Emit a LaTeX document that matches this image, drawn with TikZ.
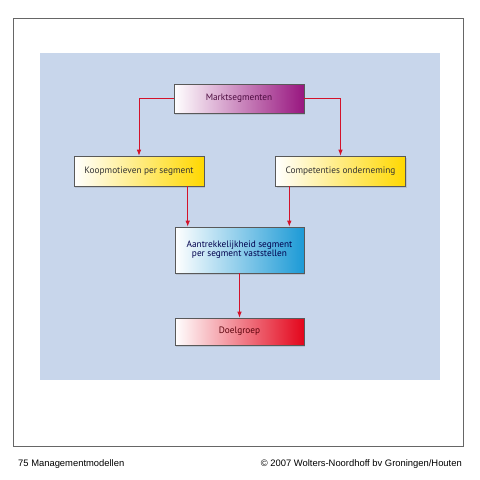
\documentclass[tikz,border=0pt]{standalone}
\usepackage{fontspec}
\setmainfont{Liberation Sans}
\newfontfamily\boxfont{PT Sans}
\usetikzlibrary{shadows,calc,arrows.meta}
\definecolor{panel}{HTML}{C8D6EB}
\definecolor{arrred}{HTML}{D3122A}
\definecolor{purp}{HTML}{98167F}
\definecolor{yel}{HTML}{FFD800}
\definecolor{blu}{HTML}{1C9AD6}
\definecolor{rd}{HTML}{E3051B}
\tikzset{
  box/.style={draw=black!65, line width=0.6pt, minimum width=130pt, minimum height=30pt,
    inner sep=0pt, align=center, font=\boxfont\fontsize{9.3}{11}\selectfont,
    drop shadow={opacity=0.25, shadow xshift=1.2pt, shadow yshift=-1.5pt}},
  arr/.style={draw=arrred, line width=0.8pt, -{Latex[length=6pt,width=4.5pt]}}
}
\begin{document}
\begin{tikzpicture}[x=1pt,y=-1pt]
\useasboundingbox (0,0) rectangle (480,480);
\fill[white] (0,0) rectangle (480,480);
\draw[black!60, line width=0.8pt] (13,18) rectangle (463,446);
\fill[panel] (40,53) rectangle (440,380);
\node[box, left color=white, right color=purp, text=purp!50!black, minimum height=29pt] (markt) at (239,98.5) {Marktsegmenten};
\node[box, left color=white, right color=yel, text=black!80] (koop) at (139,171) {Koopmotieven per segment};
\node[box, left color=white, right color=yel, text=black!80] (comp) at (340.5,171) {Competenties onderneming};
\node[box, left color=white, right color=blu, text=blue!30!black, minimum width=129pt, minimum height=46pt] (aantr) at (239.5,250) {Aantrekkelijkheid segment\\[-2pt]per segment vaststellen};
\node[box, left color=white, right color=rd, text=rd!40!black, minimum width=129pt, minimum height=27pt] (doel) at (239.5,331.5) {Doelgroep};
\draw[arr] (markt.west) -| (koop.north);
\draw[arr] (markt.east) -| (comp.north);
\draw[arr] ([xshift=13pt]aantr.north west |- koop.south) -- ([xshift=13pt]aantr.north west);
\draw[arr] ([xshift=-15pt]aantr.north east |- comp.south) -- ([xshift=-15pt]aantr.north east);
\draw[arr] (aantr.south) -- (doel.north);
\node[anchor=base west, font=\fontsize{9.4}{11}\selectfont, inner sep=0pt] (left) at (18,466) {75 Managementmodellen};
\node[anchor=base east, font=\fontsize{9.4}{11}\selectfont, inner sep=0pt] (right) at (462,466) {© 2007 Wolters-Noordhoff bv Groningen/Houten};
\end{tikzpicture}
\end{document}
